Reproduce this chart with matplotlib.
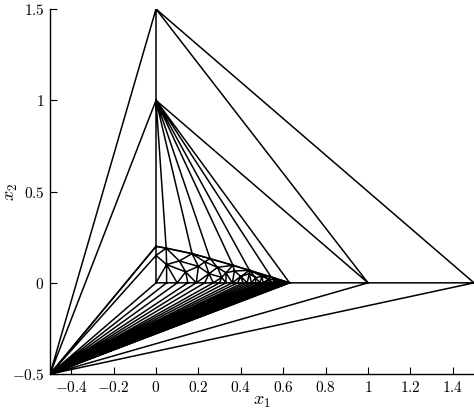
import numpy as np
import matplotlib
matplotlib.use("Agg")
import matplotlib.pyplot as plt
import matplotlib.tri as mtri

plt.rcParams['mathtext.fontset'] = 'cm'

# corner / coarse nodes
corner = (-0.5, -0.5)
apex_top = (0.0, 1.5)
apex_mid = (0.0, 1.0)
right_nodes_x = [1.0, 1.5]

# upper boundary of the refined patch, from (0, 0.2) down to (0.63, 0)
top_x = [0.0, 0.048, 0.17, 0.255, 0.363, 0.441, 0.543, 0.63]
top_y = [0.2, 0.19, 0.16, 0.1325, 0.096, 0.0685, 0.032, 0.0]

# left edge of the patch (x = 0)
left_y = [0.0, 0.15]

# nodes on the x1 axis inside the patch
bottom_x = [0.05, 0.10, 0.15, 0.19, 0.23, 0.27, 0.30, 0.33, 0.36, 0.385,
            0.41, 0.43, 0.45, 0.47, 0.49, 0.505, 0.52, 0.535, 0.55, 0.563,
            0.576, 0.588, 0.60, 0.61, 0.62]

# interior nodes of the patch
inner_x = [0.05, 0.11, 0.14, 0.20, 0.23, 0.25, 0.29, 0.31, 0.33, 0.37,
           0.40, 0.44, 0.47, 0.50, 0.53, 0.56, 0.59]
inner_y = [0.10, 0.12, 0.06, 0.09, 0.115, 0.05, 0.085, 0.03, 0.055, 0.065,
           0.035, 0.05, 0.028, 0.036, 0.02, 0.016, 0.008]

xtick_vals = [-0.4, -0.2, 0, 0.2, 0.4, 0.6, 0.8, 1, 1.2, 1.4]
ytick_vals = [-0.5, 0, 0.5, 1, 1.5]

# refined patch + corner -> Delaunay
fx = [corner[0]] + top_x + [0.0] * len(left_y) + bottom_x + inner_x
fy = [corner[1]] + top_y + left_y + [0.0] * len(bottom_x) + inner_y
fine = mtri.Triangulation(fx, fy)

# coarse part with explicit connectivity
cx = [corner[0], apex_top[0], apex_mid[0]] + top_x + right_nodes_x
cy = [corner[1], apex_top[1], apex_mid[1]] + top_y + [0.0, 0.0]
nt = len(top_x)
i_r1, i_r2 = 3 + nt, 4 + nt
tris = [[0, 1, 2], [0, 2, 3]]
for k in range(nt - 1):
    tris.append([2, 3 + k, 4 + k])
tris += [[2, 2 + nt, i_r1], [1, 2, i_r1], [1, i_r1, i_r2],
         [0, 2 + nt, i_r1], [0, i_r1, i_r2]]
coarse = mtri.Triangulation(cx, cy, tris)

fig = plt.figure(figsize=(4.74, 4.12), dpi=100)
ax = fig.add_axes([0.1055, 0.092, 0.8945, 0.886])
ax.triplot(coarse, color='black', lw=1.1)
ax.triplot(fine, color='black', lw=1.1)

ax.set_xlim(-0.5, 1.5)
ax.set_ylim(-0.5, 1.5)
ax.spines['top'].set_visible(False)
ax.spines['right'].set_visible(False)
for s in ['left', 'bottom']:
    ax.spines[s].set_linewidth(1.0)

def fmt(v):
    return r'$%g$' % v

ax.set_xticks(xtick_vals)
ax.set_xticklabels([fmt(v) for v in xtick_vals], fontsize=11)
ax.set_yticks(ytick_vals)
ax.set_yticklabels([fmt(v) for v in ytick_vals], fontsize=11)
ax.tick_params(direction='in', length=5, width=0.8, pad=4)
ax.set_xlabel(r'$x_1$', fontsize=13)
ax.set_ylabel(r'$x_2$', fontsize=13)
ax.xaxis.set_label_coords(0.5, -0.048)
ax.yaxis.set_label_coords(-0.07, 0.5)

fig.savefig('out.png', dpi=100)
